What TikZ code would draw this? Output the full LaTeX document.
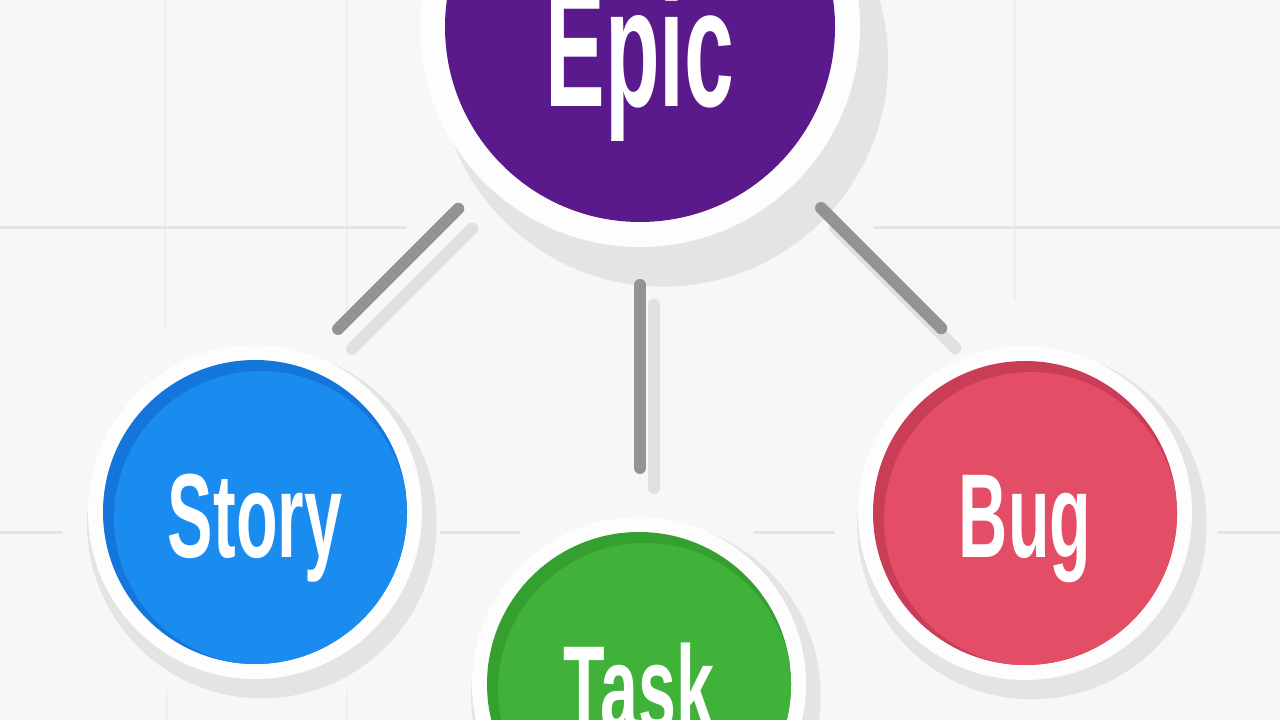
\documentclass[tikz,border=0pt]{standalone}
\usepackage{fontspec}
\newfontfamily\labelfont{Liberation Sans}[FakeStretch=0.57]
\newfontfamily\epicfont{Liberation Sans}[FakeStretch=0.53]
\usetikzlibrary{shadows}
\definecolor{paper}{HTML}{F7F7F7}
\definecolor{gridgray}{HTML}{E4E4E4}
\definecolor{gridfaint}{HTML}{EFEFEF}
\definecolor{linkgray}{HTML}{939393}
\definecolor{linkshade}{HTML}{E0E0E0}
\definecolor{halo}{HTML}{E4E4E4}
\definecolor{ring}{HTML}{FDFDFD}
\definecolor{epicpurple}{HTML}{5B1A8B}
\definecolor{storyblue}{HTML}{1A8CF0}
\definecolor{storyrim}{HTML}{1476DA}
\definecolor{taskgreen}{HTML}{40B23A}
\definecolor{taskrim}{HTML}{35A02F}
\definecolor{bugred}{HTML}{E34D65}
\definecolor{bugrim}{HTML}{C93D57}
\tikzset{
    bubble/.style 2 args={circle, inner sep=0pt, minimum size=3.04cm, fill=#2, text=white,
        text height=0.9cm, text depth=0pt,
        font=\labelfont\bfseries\fontsize{34pt}{34pt}\selectfont,
        drop shadow={shadow xshift=0.06cm, shadow yshift=-0.1cm, shadow scale=1.15, fill=halo, opacity=1},
        preaction={draw=ring, line width=0.3cm},
        path picture={\fill[#1] ([shift={(0.06,-0.06)}]path picture bounding box.center) circle (1.47cm);}},
    epicbubble/.style={circle, inner sep=0pt, minimum size=3.9cm, fill=epicpurple, text=white,
        text height=1.6cm, text depth=0pt,
        font=\epicfont\bfseries\fontsize{48pt}{48pt}\selectfont,
        drop shadow={shadow xshift=0.2cm, shadow yshift=-0.3cm, shadow scale=1.154, fill=halo, opacity=1},
        preaction={draw=ring, line width=0.5cm}},
    link/.style={draw=linkgray, line width=0.12cm, line cap=round},
    linkshadow/.style={link, draw=linkshade, transform canvas={shift={(0.14,-0.2)}}},
    gridline/.style={draw=gridgray, line width=0.03cm},
    faintline/.style={draw=gridfaint, line width=0.02cm}
}

\begin{document}
\begin{tikzpicture}

    \useasboundingbox (0,0) rectangle (12.8,-7.2);
    \clip (0,0) rectangle (12.8,-7.2);
    \fill[paper] (0,0) rectangle (12.8,-7.2);

    % background grid
    \draw[faintline] (1.65,0) -- (1.65,-3.3);
    \draw[faintline] (3.47,0) -- (3.47,-3.3);
    \draw[faintline] (10.15,0) -- (10.15,-3.0);
    \draw[faintline] (1.67,-6.9) -- (1.67,-7.2);
    \draw[faintline] (3.47,-6.9) -- (3.47,-7.2);
    \draw[gridline] (0,-2.28) -- (4.07,-2.28);
    \draw[gridline] (8.73,-2.28) -- (12.8,-2.28);
    \draw[gridline] (0,-5.33) -- (0.63,-5.33);
    \draw[gridline] (4.40,-5.33) -- (5.20,-5.33);
    \draw[gridline] (7.53,-5.33) -- (8.35,-5.33);
    \draw[gridline] (12.17,-5.33) -- (12.8,-5.33);

    \node[epicbubble] (epic) at (6.40,-0.27) {Epic};
    \node[bubble={storyblue}{storyrim}] (story) at (2.55,-5.12) {Story};
    \node[bubble={taskgreen}{taskrim}] (task) at (6.39,-6.84) {Task};
    \node[bubble={bugred}{bugrim}] (bug) at (10.25,-5.13) {Bug};

    % links hang off the epic
    \draw[linkshadow] ([shift={(225:2.57)}]epic.center) -- ([shift={(225:4.27)}]epic.center);
    \draw[linkshadow] ([shift={(270:2.58)}]epic.center) -- ([shift={(270:4.41)}]epic.center);
    \draw[linkshadow] ([shift={(315:2.56)}]epic.center) -- ([shift={(315:4.26)}]epic.center);
    \draw[link] ([shift={(225:2.57)}]epic.center) -- ([shift={(225:4.27)}]epic.center);
    \draw[link] ([shift={(270:2.58)}]epic.center) -- ([shift={(270:4.41)}]epic.center);
    \draw[link] ([shift={(315:2.56)}]epic.center) -- ([shift={(315:4.26)}]epic.center);
\end{tikzpicture}
\end{document}
